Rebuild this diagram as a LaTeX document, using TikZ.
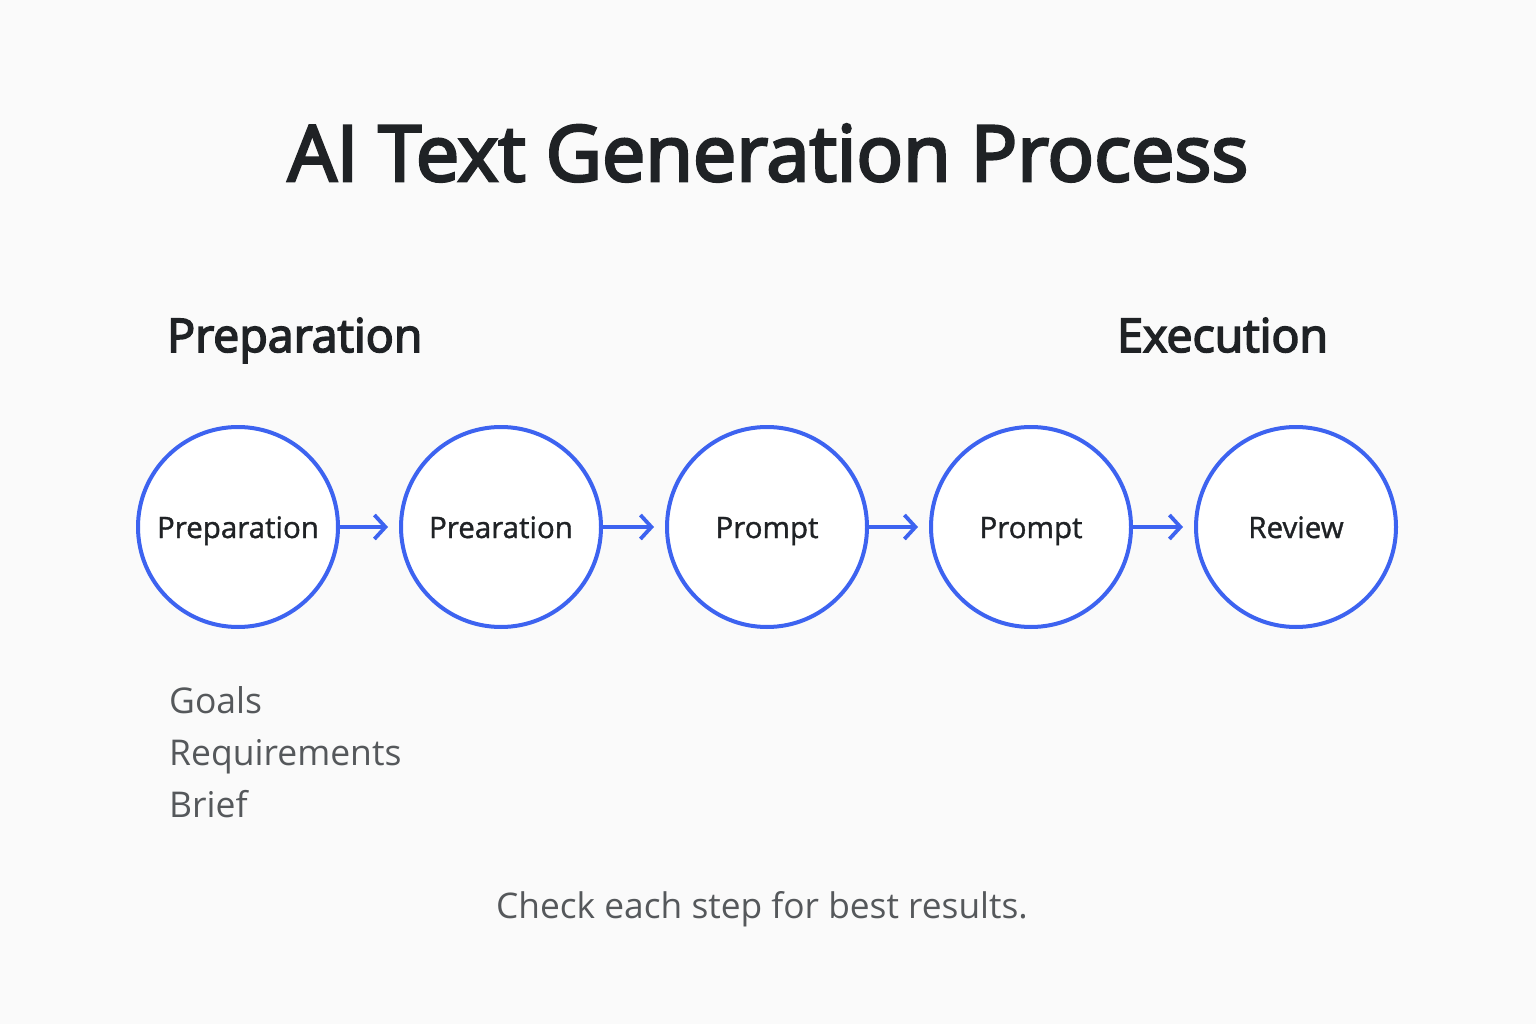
\documentclass[tikz,border=0pt]{standalone}
\usepackage{fontspec}
\setmainfont{Open Sans}
\newfontfamily\semib{Open Sans}[FakeBold=3.5]
\newfontfamily\medw{Open Sans}[FakeBold=1.2]
\usetikzlibrary{arrows.meta}
\definecolor{bg}{HTML}{FAFAFA}
\definecolor{blueline}{HTML}{3D63F0}
\definecolor{ink}{HTML}{1F2225}
\definecolor{grayink}{HTML}{55585B}
\tikzset{
  stage/.style={circle, draw=blueline, line width=4pt, fill=white, minimum size=200pt, inner sep=0pt, font=\fontsize{29.5}{36}\selectfont\medw, text=ink, text height=22pt, text depth=0pt},
  flow/.style={draw=blueline, line width=3.8pt, -{Straight Barb[length=11pt,width=24pt,line width=3.8pt]}, shorten >=11pt},
  heading/.style={font=\fontsize{46.5}{54}\selectfont\semib, text=ink, anchor=base west, inner sep=0pt},
  note/.style={font=\fontsize{35.5}{42}\selectfont, text=grayink, anchor=base west, inner sep=0pt}
}
\begin{document}
\begin{tikzpicture}[x=1pt,y=-1pt]
\fill[bg] (0,0) rectangle (1536,1024);
\useasboundingbox (0,0) rectangle (1536,1024);
\node[font=\fontsize{77.4}{88}\selectfont\semib, text=ink, inner sep=0pt, anchor=base] (title) at (768,181) {AI Text Generation Process};
\node[heading] (hprep) at (167,352) {Preparation};
\node[heading] (hexec) at (1117,352) {Execution};
\node[stage] (c1) at (238,527) {Preparation};
\node[stage] (c2) at (501,527) {Prearation};
\node[stage] (c3) at (767,527) {Prompt};
\node[stage] (c4) at (1031,527) {Prompt};
\node[stage] (c5) at (1296,527) {Review};
\draw[flow] (c1) -- (c2);
\draw[flow] (c2) -- (c3);
\draw[flow] (c3) -- (c4);
\draw[flow] (c4) -- (c5);
\node[note] (n1) at (169,713) {Goals};
\node[note] (n2) at (169,765) {Requirements};
\node[note] (n3) at (169,817) {Brief};
\node[font=\fontsize{35.3}{42}\selectfont, text=grayink, inner sep=0pt, anchor=base] (foot) at (762,918) {Check each step for best results.};
\end{tikzpicture}
\end{document}
